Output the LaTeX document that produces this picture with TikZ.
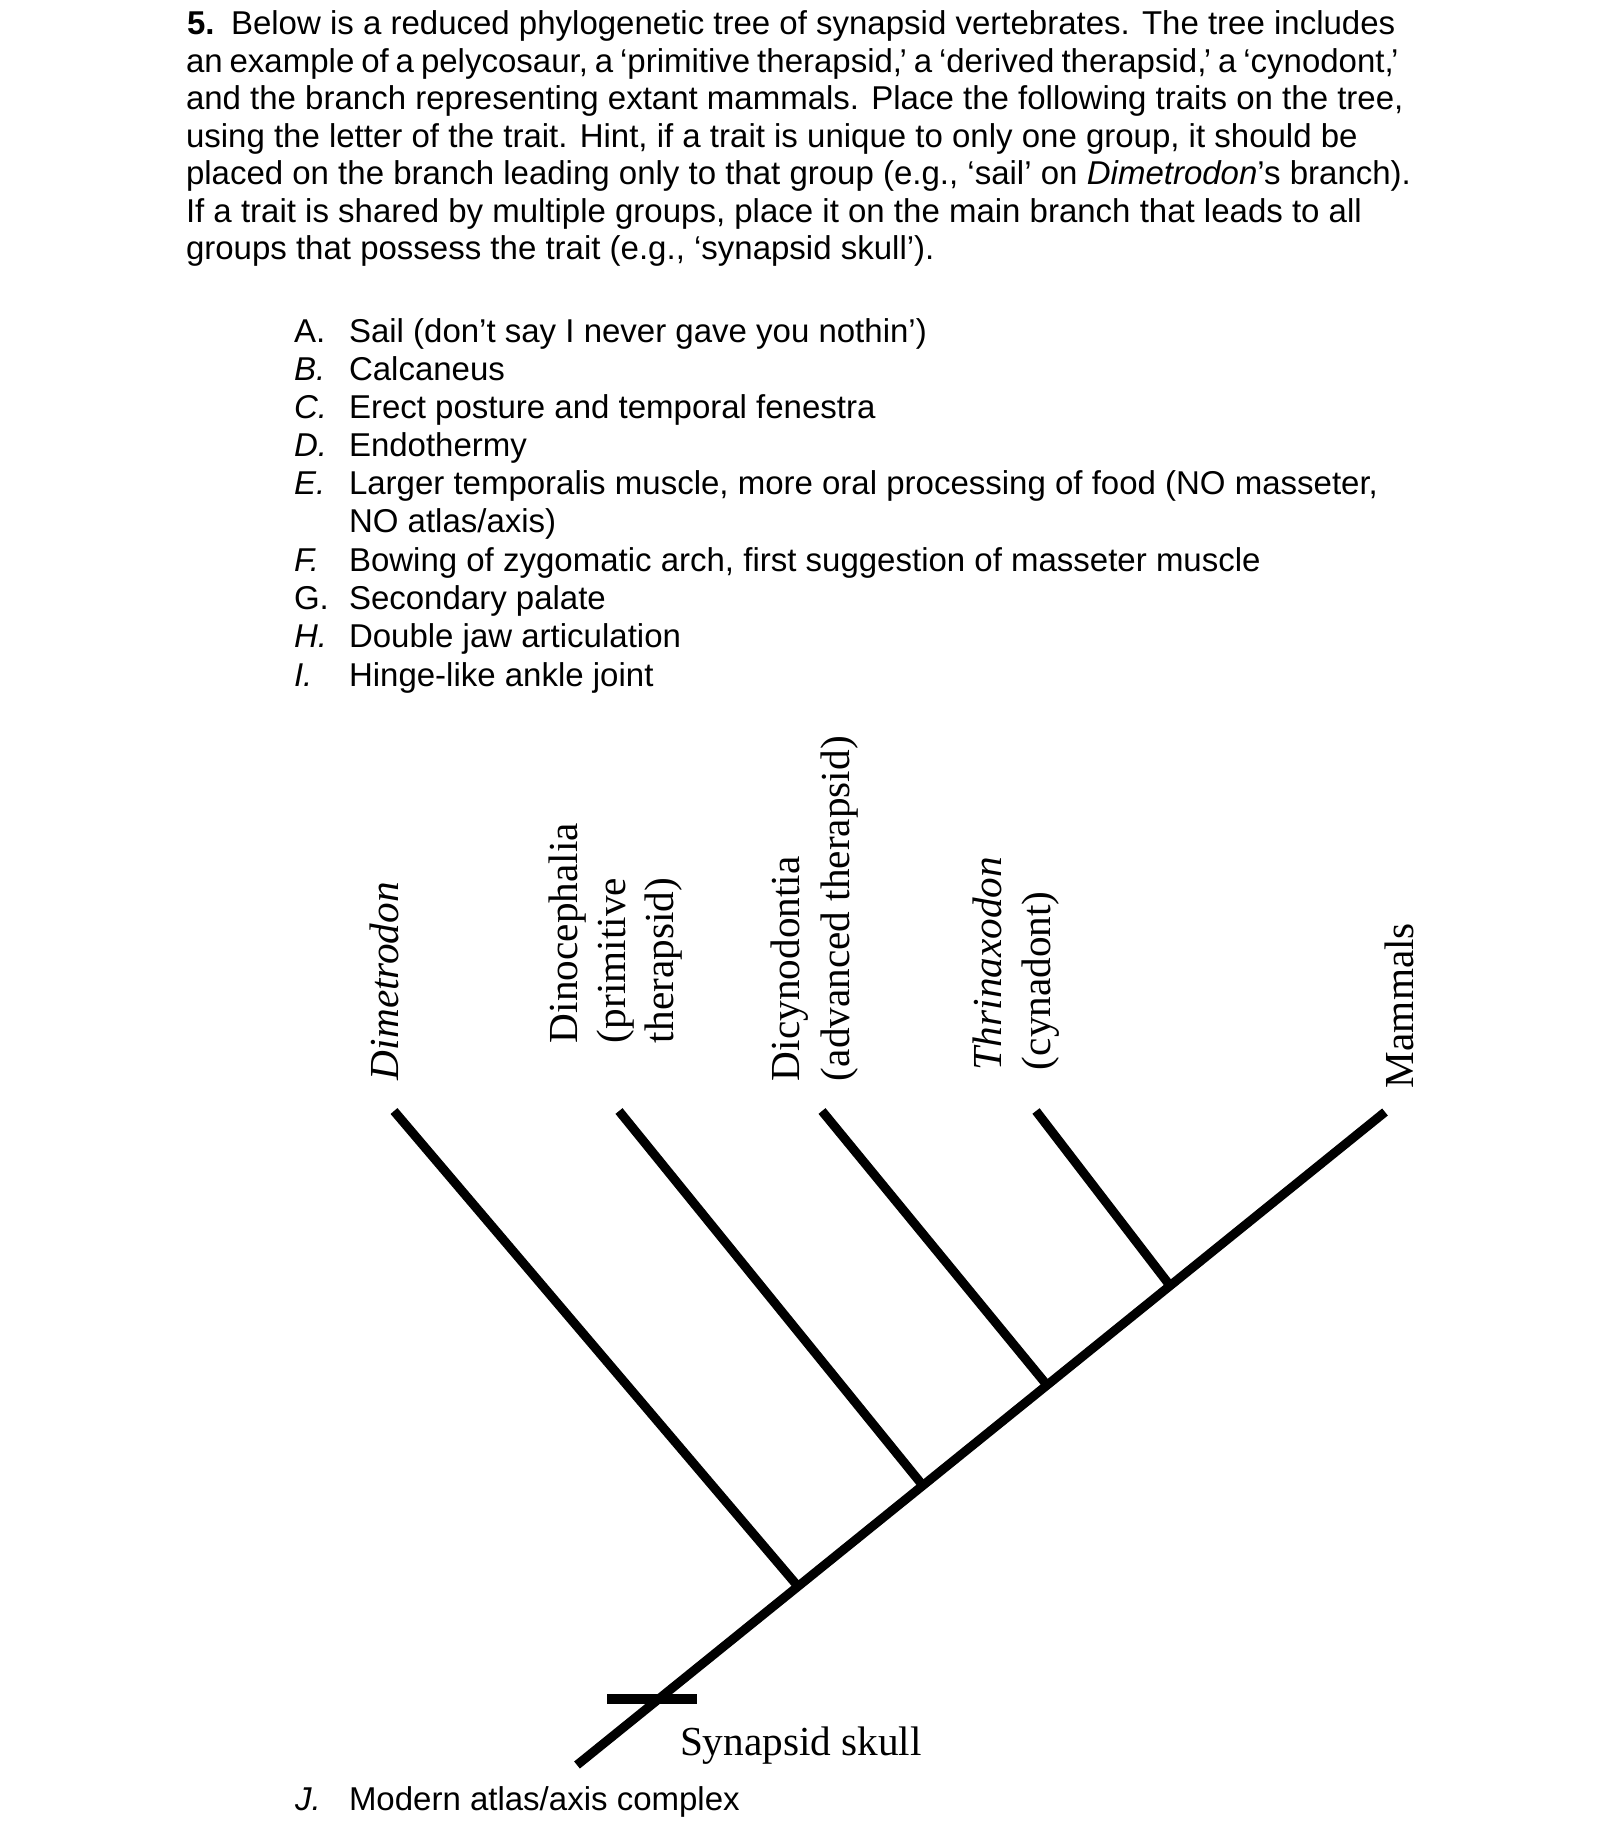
\documentclass[tikz,border=0pt]{standalone}
\usepackage{fontspec}
\setmainfont{Liberation Sans}
\newfontfamily\labserif{Liberation Serif}
\usetikzlibrary{calc}
\begin{document}
\begin{tikzpicture}[x=0.3636pt,y=-0.3636pt,
  txt/.style={anchor=base west, inner sep=0pt, outer sep=0pt, font=\fontsize{12}{13.8}\selectfont},
  lab/.style={anchor=base west, inner sep=0pt, outer sep=0pt, rotate=90, font=\labserif\fontsize{15}{18}\selectfont},
  branch/.style={line width=3.3pt, line cap=butt}]
\useasboundingbox (0,0) rectangle (1620,1825);
% header
\node[txt] (h1) at (187,35) {\textbf{5.}\hspace{0.5em}Below is a reduced phylogenetic tree of synapsid vertebrates. The tree includes};
\node[txt] (h2) at (186,72.5) {\spaceskip=0.21em an example of a pelycosaur, a ‘primitive therapsid,\kern-0.08em’ a ‘derived therapsid,\kern-0.08em’ a ‘cynodont,\kern-0.08em’};
\node[txt] (h3) at (186,110) {and the branch representing extant mammals. Place the following traits on the tree,};
\node[txt] (h4) at (186,147.5) {using the letter of the trait. Hint, if a trait is unique to only one group, it should be};
\node[txt] (h5) at (186,185) {placed on the branch leading only to that group (e.g., ‘sail’ on \textit{Dimetrodon}’s branch).};
\node[txt] (h6) at (186,222.5) {If a trait is shared by multiple groups, place it on the main branch that leads to all};
\node[txt] (h7) at (186,260) {groups that possess the trait (e.g., ‘synapsid skull’).};
% list
\node[txt] (la) at (294,343) {A.};
\node[txt] (ta) at (349,343) {Sail (don’t say I never gave you nothin’)};
\node[txt] (lb) at (294,381) {\itshape B.};
\node[txt] (tb) at (349,381) {Calcaneus};
\node[txt] (lc) at (294,419) {\itshape C.};
\node[txt] (tc) at (349,419) {Erect posture and temporal fenestra};
\node[txt] (ld) at (294,457) {\itshape D.};
\node[txt] (td) at (349,457) {Endothermy};
\node[txt] (le) at (294,495) {\itshape E.};
\node[txt] (te) at (349,495) {Larger temporalis muscle, more oral processing of food (NO masseter,};
\node[txt] (te2) at (349,533) {NO atlas/axis)};
\node[txt] (lf) at (294,571) {\itshape F.};
\node[txt] (tf) at (349,571) {Bowing of zygomatic arch, first suggestion of masseter muscle};
\node[txt] (lg) at (294,609) {G.};
\node[txt] (tg) at (349,609) {Secondary palate};
\node[txt] (lh) at (294,647) {\itshape H.};
\node[txt] (th) at (349,647) {Double jaw articulation};
\node[txt] (li) at (294,686) {\itshape I.};
\node[txt] (ti) at (349,686) {Hinge-like ankle joint};
\node[txt] (lj) at (295,1810) {\itshape J.};
\node[txt] (tj) at (349,1810) {Modern atlas/axis complex};
% tree
\coordinate (root) at (577,1765);
\coordinate (mtip) at (1385,1112);
\coordinate (j1) at ($(root)!0.2735!(mtip)$);
\coordinate (j2) at ($(root)!0.428!(mtip)$);
\coordinate (j3) at ($(root)!0.5817!(mtip)$);
\coordinate (j4) at ($(root)!0.734!(mtip)$);
\coordinate (t1) at (394,1111);
\coordinate (t2) at (619,1111);
\coordinate (t3) at (822,1111);
\coordinate (t4) at (1036,1111);
\coordinate (c1) at (607,1699);
\coordinate (c2) at (697,1699);
\draw[branch] (root) -- (mtip);
\draw[branch] (t1) -- (j1);
\draw[branch] (t2) -- (j2);
\draw[branch] (t3) -- (j3);
\draw[branch] (t4) -- (j4);
\draw[branch] (c1) -- (c2);
% labels
\node[lab] (n1) at (398,1080) {\itshape Dimetrodon};
\node[lab] (n2a) at (577,1043) {Dinocephalia};
\node[lab] (n2b) at (625,1043) {(primitive};
\node[lab] (n2c) at (673,1043) {therapsid)};
\node[lab] (n3a) at (799,1081) {Dicynodontia};
\node[lab] (n3b) at (849,1081) {(advanced therapsid)};
\node[lab] (n4a) at (1001,1070) {\itshape Thrinaxodon};
\node[lab] (n4b) at (1050,1070) {(cynadont)};
\node[lab] (n5) at (1413,1088) {Mammals};
\node[anchor=base west, inner sep=0pt, outer sep=0pt, font=\labserif\fontsize{15}{18}\selectfont] (skull) at (680,1755) {Synapsid skull};
\end{tikzpicture}
\end{document}
